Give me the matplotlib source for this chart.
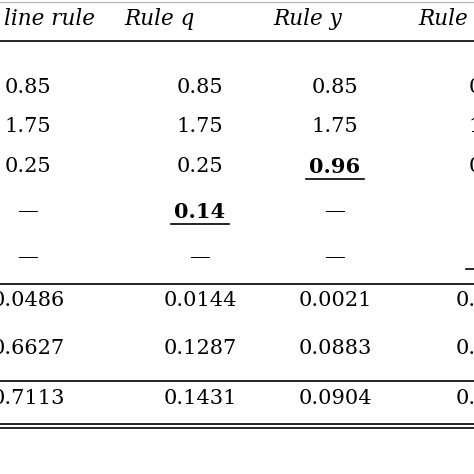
import matplotlib
matplotlib.use("Agg")
import matplotlib.pyplot as plt

headers = ["line rule", "Rule q", "Rule y", "Rule"]
col1 = ["0.85", "1.75", "0.25", "—", "—", "0.0486", "0.6627", "0.7113"]
col2 = ["0.85", "1.75", "0.25", "0.14", "—", "0.0144", "0.1287", "0.1431"]
col3 = ["0.85", "1.75", "0.96", "—", "—", "0.0021", "0.0883", "0.0904"]
col4 = ["0.85", "1.75", "0.25", "—", "4", "0.0000", "0.0000", "0.0000"]
bold = {(1, 3), (2, 2), (3, 4)}

fig = plt.figure(figsize=(4.74, 4.74), dpi=100)
ax = fig.add_axes([0, 0, 1, 1])
ax.set_xlim(0, 474); ax.set_ylim(474, 0); ax.axis("off")
fam = "DejaVu Serif"
fs = 15

hx = [50, 160, 308, 418]
for i, h in enumerate(headers):
    ax.text(hx[i], 19, h, ha="left" if i == 3 else "center", va="center",
            fontsize=fs + 0.5, style="italic", family=fam)

rows_y = [87, 126, 167, 212, 257, 301, 348, 398]
cx = [28, 200, 335, 492]
cols = [col1, col2, col3, col4]
for ci, col in enumerate(cols):
    for ri, v in enumerate(col):
        if ci == 3 and v == "—":
            continue
        b = (ci, ri) in bold
        ax.text(cx[ci], rows_y[ri], v, ha="center", va="center", fontsize=fs,
                family=fam, weight="bold" if b else "normal")
        if b:
            w = 13.5 * len(v)
            x0 = cx[ci] - w / 2 - 2
            if ci == 3:
                x0 = 466
            ax.plot([x0, cx[ci] + w / 2 + 2], [rows_y[ri] + 12] * 2,
                    color="black", lw=1.2)

for y in [41, 284, 381]:
    ax.axhline(y, color="black", lw=1.2)
ax.axhline(424, color="black", lw=1.2)
ax.axhline(428, color="black", lw=1.2)
ax.axhline(2, color="#bbbbbb", lw=1)

fig.savefig("out.png", dpi=100)
